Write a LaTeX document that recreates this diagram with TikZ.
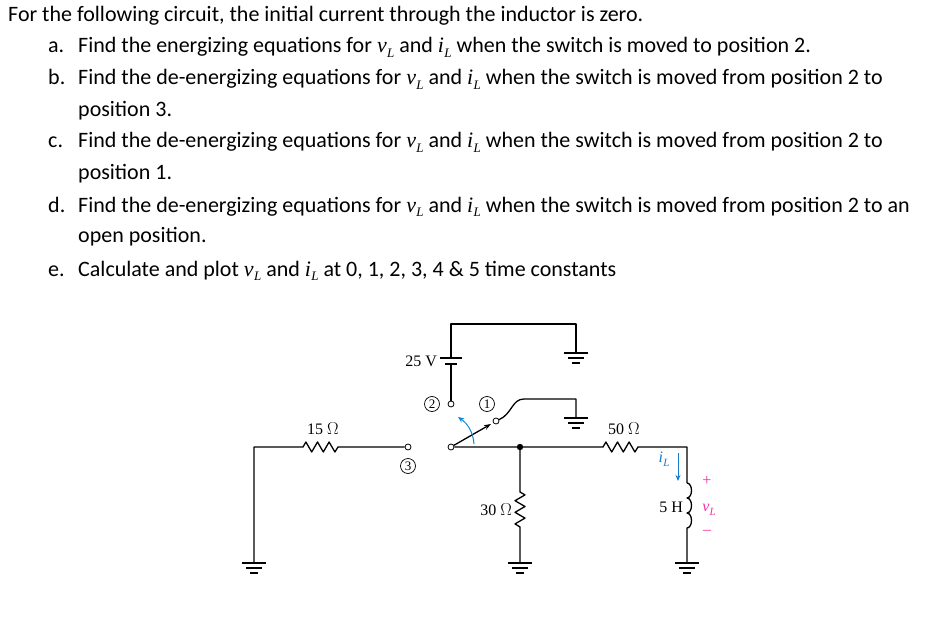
\documentclass[tikz,border=0pt]{standalone}
\usepackage{fontspec}
\setmainfont{Carlito}
\newfontfamily\tms{Liberation Serif}
\newcommand\ml[1]{{\tms\itshape #1\kern0.3pt\raisebox{-0.22em}{\fontsize{13}{13}\selectfont L}}}
\newcommand\mls[1]{{\tms\itshape #1\kern0.3pt\raisebox{-0.22em}{\fontsize{11}{11}\selectfont L}}}
\usetikzlibrary{arrows.meta}
\begin{document}
\begin{tikzpicture}[x=1pt,y=-1pt,
  txt/.style={anchor=base west,inner sep=0pt,font=\fontsize{22}{24}\selectfont},
  lbl/.style={inner sep=0pt,font=\tms\fontsize{16}{18}\selectfont},
  wire/.style={line width=1.3pt,line join=round},
  term/.style={circle,draw,line width=0.8pt,fill=white,inner sep=0pt,minimum size=6pt},
  num/.style={circle,draw,line width=0.7pt,inner sep=0pt,minimum size=15pt,font=\tms\fontsize{13}{13}\selectfont}]
\useasboundingbox (0,0) rectangle (934,639);
\fill[white] (0,0) rectangle (934,639);
% text
\node[txt] (t0) at (8,22) {For the following circuit, the initial current through the inductor is zero.};
\node[txt] (la) at (48,53) {a.}; \node[txt] (ta) at (78,53) {Find the energizing equations for \ml{v} and \ml{i} when the switch is moved to position 2.};
\node[txt] (lb) at (48,85) {b.}; \node[txt] (tb) at (78,85) {Find the de-energizing equations for \ml{v} and \ml{i} when the switch is moved from position 2 to};
\node[txt] (tb2) at (78,117) {position 3.};
\node[txt] (lc) at (48,148) {c.}; \node[txt] (tc) at (78,148) {Find the de-energizing equations for \ml{v} and \ml{i} when the switch is moved from position 2 to};
\node[txt] (tc2) at (78,180) {position 1.};
\node[txt] (ld) at (48,212) {d.}; \node[txt] (td) at (78,212) {Find the de-energizing equations for \ml{v} and \ml{i} when the switch is moved from position 2 to an};
\node[txt] (td2) at (78,243) {open position.};
\node[txt] (le) at (48,276) {e.}; \node[txt] (te) at (78,276) {Calculate and plot \ml{v} and \ml{i} at 0, 1, 2, 3, 4 \& 5 time constants};
% ground macro
\newcommand\gnd[2]{\draw[wire] (#1-12,#2) -- (#1+12,#2) (#1-8,#2+5) -- (#1+8,#2+5) (#1-4,#2+10) -- (#1+4,#2+10);}
% coordinates
\coordinate (gL) at (254,563);
\coordinate (tl) at (254,447);
\coordinate (r1a) at (303,447); \coordinate (r1b) at (338,447);
\node[term] (T3) at (408,447) {};
\node[term] (P) at (451,447) {};
\node[term] (T2) at (451,404) {};
\node[term] (T1) at (496,421) {};
\node[num] (n3) at (408,466) {3};
\node[num] (n2) at (432,404) {2};
\node[num] (n1) at (487,404) {1};
\coordinate (J) at (520,447);
\coordinate (r2a) at (603,447); \coordinate (r2b) at (638,447);
\coordinate (tr) at (687,447);
% left branch
\draw[wire] (gL) -- (tl) -- (r1a) -- ++(2.9,-5) -- ++(5.8,10) -- ++(5.8,-10) -- ++(5.8,10) -- ++(5.8,-10) -- ++(5.8,10) -- (r1b) -- (T3);
\gnd{254}{563}
\node[lbl] (l15) at (323,429) {15 $\Omega$};
% battery branch
\draw[wire] (T2) -- (451,363);
\draw[wire] (451,358) -- (451,324) -- (576,324) -- (576,353);
\draw[wire] (440,358) -- (462,358);
\draw[line width=2.4pt] (445,364) -- (457,364);
\gnd{576}{353}
\node[lbl,anchor=east] (l25) at (437,361) {25 V};
% position 1 branch
\draw[wire] (T1) .. controls (512,414) and (512,399) .. (524,399) -- (576,399) -- (576,418);
\gnd{576}{418}
% switch blade
\draw[wire,-{Stealth[length=7pt,width=5pt]}] (P) -- (491,424);
\draw[cyan!70!blue,line width=1pt,-{Stealth[length=6pt,width=5pt]}] (474,444) .. controls (473,432) and (468,424) .. (458,417);
% main rail
\draw[wire] (P) -- (J) -- (r2a) -- ++(2.9,-5) -- ++(5.8,10) -- ++(5.8,-10) -- ++(5.8,10) -- ++(5.8,-10) -- ++(5.8,10) -- (r2b) -- (tr) -- (687,483);
\fill (J) circle (3.2);
\node[lbl] (l50) at (624,429) {50 $\Omega$};
% 30 ohm
\draw[wire] (J) -- (520,492) -- ++(5,2.9) -- ++(-10,5.8) -- ++(10,5.8) -- ++(-10,5.8) -- ++(10,5.8) -- ++(-10,5.8) -- (520,527) -- (520,563);
\gnd{520}{563}
\node[lbl,anchor=east] (l30) at (512,510) {30 $\Omega$};
% inductor
\draw[wire] (687,483)
  arc[start angle=90,end angle=-90,x radius=4.5pt,y radius=7.5pt]
  arc[start angle=90,end angle=-90,x radius=4.5pt,y radius=7.5pt]
  arc[start angle=90,end angle=-90,x radius=4.5pt,y radius=7.5pt] -- (687,563);
\gnd{687}{563}
\node[lbl,anchor=east] (l5) at (683,507) {5 H};
% iL
\draw[cyan!60!blue,line width=1pt,-{Stealth[length=6pt,width=5pt]}] (678,453) -- (678,481);
\node[lbl,text=cyan!60!blue] (liL) at (664,459) {\mls{i}};
\node[lbl,text=magenta!80!white] (lp) at (707,481) {+};
\node[lbl,text=magenta!80!white] (lv) at (709,510) {\mls{v}};
\node[lbl,text=magenta!80!white] (lm) at (707,532) {\tms\textendash};
\end{tikzpicture}
\end{document}
